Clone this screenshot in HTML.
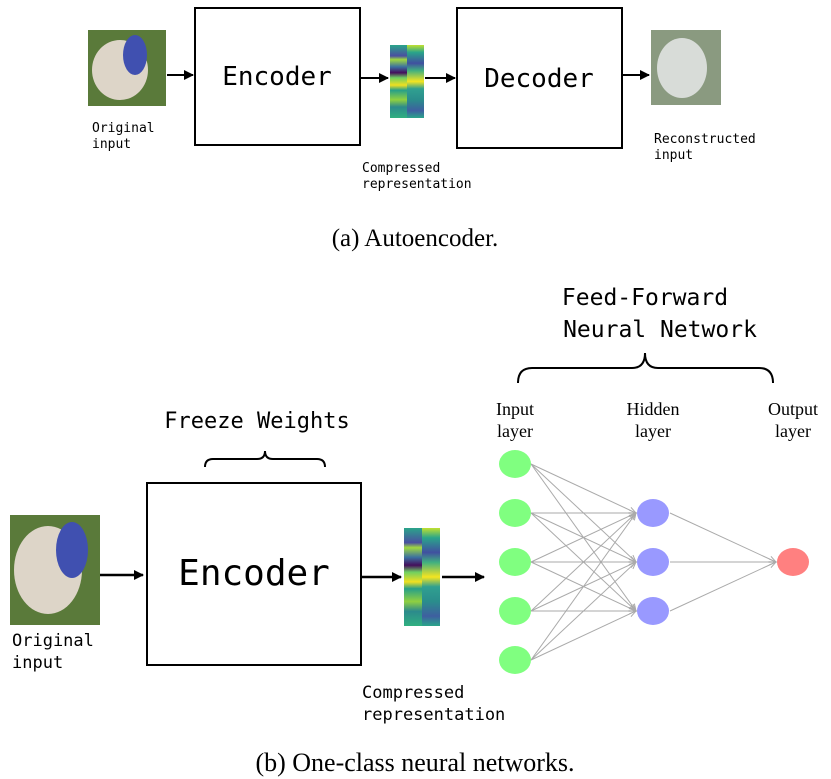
<!DOCTYPE html>
<html><head><style>body{margin:0;background:#fff}svg{display:block}</style></head><body>
<svg width="831" height="779" viewBox="0 0 831 779" xmlns="http://www.w3.org/2000/svg">
<defs>
<marker id="ah" markerWidth="10" markerHeight="10" refX="9" refY="5" orient="auto" markerUnits="userSpaceOnUse"><path d="M0,0 L10,5 L0,10 z" fill="#000"/></marker>
<marker id="gh" markerWidth="8" markerHeight="8" refX="7" refY="4" orient="auto" markerUnits="userSpaceOnUse"><path d="M0,1 L7,4 L0,7" fill="none" stroke="#aaa" stroke-width="1"/></marker>
<linearGradient id="vec1" x1="0" y1="0" x2="0" y2="1">
<stop offset="0" stop-color="#2aa58a"/><stop offset="0.15" stop-color="#4a4fa0"/><stop offset="0.2" stop-color="#a0d840"/><stop offset="0.3" stop-color="#3b6fa0"/><stop offset="0.38" stop-color="#440f5c"/><stop offset="0.45" stop-color="#6fcf60"/><stop offset="0.55" stop-color="#f0e020"/><stop offset="0.62" stop-color="#27a088"/><stop offset="0.75" stop-color="#90d040"/><stop offset="0.85" stop-color="#2c8a8c"/><stop offset="1" stop-color="#30b080"/>
</linearGradient>
<linearGradient id="vec2" x1="0" y1="0" x2="0" y2="1">
<stop offset="0" stop-color="#c0e030"/><stop offset="0.1" stop-color="#2aa58a"/><stop offset="0.25" stop-color="#4050a0"/><stop offset="0.35" stop-color="#40b080"/><stop offset="0.5" stop-color="#f5e520"/><stop offset="0.6" stop-color="#30a090"/><stop offset="0.75" stop-color="#2a8d8c"/><stop offset="0.9" stop-color="#3e5fa0"/><stop offset="1" stop-color="#2aa58a"/>
</linearGradient>
</defs>
<g font-family="'DejaVu Sans Mono','Liberation Mono',monospace">
<rect x="88" y="30" width="78" height="76" fill="#5a7a3a"/>
<ellipse cx="120" cy="70" rx="28" ry="30" fill="#ddd5c8"/>
<ellipse cx="135" cy="55" rx="12" ry="20" fill="#4050b0"/>
<text x="92" y="132" font-size="13">Original</text><text x="92" y="148" font-size="13">input</text>
<line x1="167" y1="75" x2="193" y2="75" stroke="#000" stroke-width="2" marker-end="url(#ah)"/>
<rect x="195" y="8" width="165" height="137" fill="#fff" stroke="#000" stroke-width="2"/>
<text x="277" y="85" font-size="26" text-anchor="middle">Encoder</text>
<line x1="360" y1="78" x2="388" y2="78" stroke="#000" stroke-width="2" marker-end="url(#ah)"/>
<rect x="390" y="45" width="17" height="73" fill="url(#vec1)"/>
<rect x="407" y="45" width="17" height="73" fill="url(#vec2)"/>
<line x1="425" y1="78" x2="455" y2="78" stroke="#000" stroke-width="2" marker-end="url(#ah)"/>
<text x="362" y="172" font-size="13">Compressed</text><text x="362" y="188" font-size="13">representation</text>
<rect x="457" y="8" width="165" height="140" fill="#fff" stroke="#000" stroke-width="2"/>
<text x="539" y="87" font-size="26" text-anchor="middle">Decoder</text>
<line x1="622" y1="75" x2="649" y2="75" stroke="#000" stroke-width="2" marker-end="url(#ah)"/>
<rect x="651" y="30" width="70" height="75" fill="#8a9a80"/>
<ellipse cx="682" cy="68" rx="25" ry="30" fill="#d8dcd8"/>
<text x="654" y="143" font-size="13">Reconstructed</text><text x="654" y="159" font-size="13">input</text>
<text x="415" y="246" font-size="25" text-anchor="middle" font-family="'Liberation Serif',serif">(a) Autoencoder.</text>
<text x="645" y="305" font-size="23" text-anchor="middle">Feed-Forward</text>
<text x="660" y="337" font-size="23" text-anchor="middle">Neural Network</text>
<path d="M518,383 Q518,368 532,368 L632,368 Q645,368 645,353 Q645,368 658,368 L759,368 Q773,368 773,383" fill="none" stroke="#000" stroke-width="2"/>
<text x="257" y="428" font-size="22" text-anchor="middle">Freeze Weights</text>
<path d="M205,467 Q205,459 213,459 L257,459 Q265,459 265,451 Q265,459 273,459 L317,459 Q325,459 325,467" fill="none" stroke="#000" stroke-width="2"/>
<g font-family="'Liberation Serif',serif" font-size="18" text-anchor="middle">
<text x="515" y="415">Input</text><text x="515" y="437">layer</text>
<text x="653" y="415">Hidden</text><text x="653" y="437">layer</text>
<text x="793" y="415">Output</text><text x="793" y="437">layer</text>
</g>
<rect x="10" y="515" width="90" height="110" fill="#5a7a3a"/>
<ellipse cx="48" cy="570" rx="34" ry="44" fill="#ddd5c8"/>
<ellipse cx="72" cy="550" rx="16" ry="28" fill="#4050b0"/>
<text x="12" y="646" font-size="17">Original</text><text x="12" y="668" font-size="17">input</text>
<line x1="100" y1="575" x2="143" y2="575" stroke="#000" stroke-width="2.5" marker-end="url(#ah)"/>
<rect x="147" y="483" width="214" height="182" fill="#fff" stroke="#000" stroke-width="2"/>
<text x="254" y="585" font-size="36" text-anchor="middle">Encoder</text>
<line x1="362" y1="577" x2="401" y2="577" stroke="#000" stroke-width="2.5" marker-end="url(#ah)"/>
<rect x="404" y="528" width="18" height="98" fill="url(#vec1)"/>
<rect x="422" y="528" width="18" height="98" fill="url(#vec2)"/>
<line x1="442" y1="577" x2="484" y2="577" stroke="#000" stroke-width="2.5" marker-end="url(#ah)"/>
<text x="362" y="698" font-size="17">Compressed</text><text x="362" y="720" font-size="17">representation</text>
<g stroke="#aaa" stroke-width="1" marker-end="url(#gh)">
<line x1="531" y1="464" x2="636" y2="513"/><line x1="531" y1="464" x2="636" y2="562"/><line x1="531" y1="464" x2="636" y2="611"/>
<line x1="531" y1="513" x2="636" y2="513"/><line x1="531" y1="513" x2="636" y2="562"/><line x1="531" y1="513" x2="636" y2="611"/>
<line x1="531" y1="562" x2="636" y2="513"/><line x1="531" y1="562" x2="636" y2="562"/><line x1="531" y1="562" x2="636" y2="611"/>
<line x1="531" y1="611" x2="636" y2="513"/><line x1="531" y1="611" x2="636" y2="562"/><line x1="531" y1="611" x2="636" y2="611"/>
<line x1="531" y1="660" x2="636" y2="513"/><line x1="531" y1="660" x2="636" y2="562"/><line x1="531" y1="660" x2="636" y2="611"/>
<line x1="670" y1="513" x2="776" y2="562"/><line x1="670" y1="562" x2="776" y2="562"/><line x1="670" y1="611" x2="776" y2="562"/>
</g>
<g fill="#80ff80">
<ellipse cx="515" cy="464" rx="16" ry="14"/><ellipse cx="515" cy="513" rx="16" ry="14"/><ellipse cx="515" cy="562" rx="16" ry="14"/><ellipse cx="515" cy="611" rx="16" ry="14"/><ellipse cx="515" cy="660" rx="16" ry="14"/>
</g>
<g fill="#9999ff">
<ellipse cx="653" cy="513" rx="16" ry="14"/><ellipse cx="653" cy="562" rx="16" ry="14"/><ellipse cx="653" cy="611" rx="16" ry="14"/>
</g>
<ellipse cx="793" cy="562" rx="16" ry="14" fill="#ff8080"/>
<text x="415" y="771" font-size="26" text-anchor="middle" font-family="'Liberation Serif',serif">(b) One-class neural networks.</text>
</g>
</svg>
</body></html>
